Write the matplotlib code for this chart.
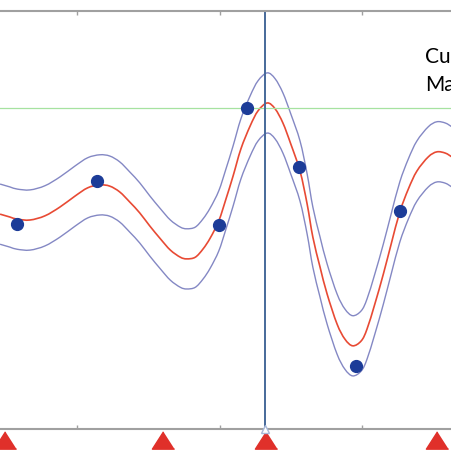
import numpy as np
import matplotlib.pyplot as plt
from matplotlib.path import Path
from matplotlib.patches import PathPatch

# posterior mean
mean_x = [0.92, 1.06, 1.16, 1.34, 1.55, 1.76, 1.97, 2.15, 2.32, 2.46, 2.60, 2.74, 2.88,
          3.02, 3.17, 3.31, 3.45, 3.54, 3.66, 3.77, 3.87, 3.99, 4.09, 4.19, 4.30, 4.43,
          4.54, 4.67, 4.78, 4.89, 5.00, 5.13, 5.23, 5.31, 5.41, 5.51, 5.65, 5.76, 5.87,
          5.99, 6.07, 6.18, 6.30, 6.41, 6.53, 6.65, 6.77, 6.93, 7.05, 7.17, 7.26]
mean_y = [5.14, 5.07, 5.02, 5.00, 5.10, 5.31, 5.57, 5.77, 5.84, 5.81, 5.67, 5.43, 5.17,
          4.86, 4.55, 4.28, 4.11, 4.07, 4.11, 4.31, 4.57, 4.98, 5.50, 6.05, 6.70, 7.25,
          7.61, 7.80, 7.66, 7.32, 6.82, 6.17, 5.38, 4.59, 3.88, 3.23, 2.51, 2.15, 1.99,
          2.11, 2.39, 2.99, 3.71, 4.43, 5.19, 5.74, 6.17, 6.51, 6.63, 6.60, 6.51]
band = 0.72

# observed samples
obs_x = [1.16, 2.28, 3.99, 4.39, 5.12, 5.92, 6.53]
obs_y = [4.90, 5.93, 4.88, 7.68, 6.27, 1.51, 5.22]

next_x = 4.64
marker_x = [0.99, 3.21, 4.65, 7.05]
tick_x = [2, 4, 6]


def smooth_path(xs, ys):
    # Catmull-Rom through the read points, drawn as cubic Bezier segments
    pts = np.column_stack([xs, ys])
    verts = [pts[0]]
    codes = [Path.MOVETO]
    for i in range(len(pts) - 1):
        p0 = pts[max(i - 1, 0)]
        p1 = pts[i]
        p2 = pts[i + 1]
        p3 = pts[min(i + 2, len(pts) - 1)]
        c1 = p1 + (p2 - p0) / 6.0
        c2 = p2 - (p3 - p1) / 6.0
        verts += [c1, c2, p2]
        codes += [Path.CURVE4] * 3
    return Path(verts, codes)


def draw_curve(ax, xs, ys, color, lw):
    ax.add_patch(PathPatch(smooth_path(xs, ys), facecolor = "none",
                           edgecolor = color, linewidth = lw))


mean_x = np.array(mean_x)
mean_y = np.array(mean_y)

fig = plt.figure(figsize = (4.52, 4.52), dpi = 100)
ax = fig.add_axes([0, 22 / 452, 1, 418 / 452])

draw_curve(ax, mean_x, mean_y + band, "#8488c4", 1.0)
draw_curve(ax, mean_x, mean_y - band, "#8488c4", 1.0)
draw_curve(ax, mean_x, mean_y, "#e84a34", 1.2)

ax.axhline(max(obs_y), color = "#a6e2a0", linewidth = 0.9)
ax.axvline(next_x, color = "#46699a", linewidth = 1.4)

ax.plot(obs_x, obs_y, "o", color = "#1c3c98", markersize = 8.5, zorder = 5)

# red triangles below the axis
tri = [(0, 0.78), (-1, -0.78), (1, -0.78)]
ax.plot(marker_x, [-0.26] * len(marker_x), linestyle = "none", marker = tri,
        markersize = 16, color = "#e0302a", clip_on = False)
ax.plot([next_x], [0.0], linestyle = "none", marker = "^", markersize = 6,
        markerfacecolor = "white", markeredgecolor = "#a8b8d8", clip_on = False, zorder = 6)

ax.set_xlim(0.919, 7.263)
ax.set_ylim(0, 10)
ax.set_xticks(tick_x)
ax.set_yticks([])
ax.tick_params(axis = "x", direction = "in", length = 3, width = 1, color = "#a0a0a0",
               top = True, bottom = True, labelbottom = False, labeltop = False)
for side in ["left", "right"]:
    ax.spines[side].set_visible(False)
for side in ["top", "bottom"]:
    ax.spines[side].set_color("#a0a0a0")
    ax.spines[side].set_linewidth(1.5)

# legend text is cut by the right edge, as in the source image
ax.text(425 / 452, (430 - 63) / 418, "Current", transform = ax.transAxes,
        fontsize = 15, family = "Lato", va = "baseline", ha = "left", clip_on = False)
ax.text(425 / 452, (430 - 91) / 418, "Maximum", transform = ax.transAxes,
        fontsize = 15, family = "Lato", va = "baseline", ha = "left", clip_on = False)

plt.savefig("out.png", dpi = 100)
